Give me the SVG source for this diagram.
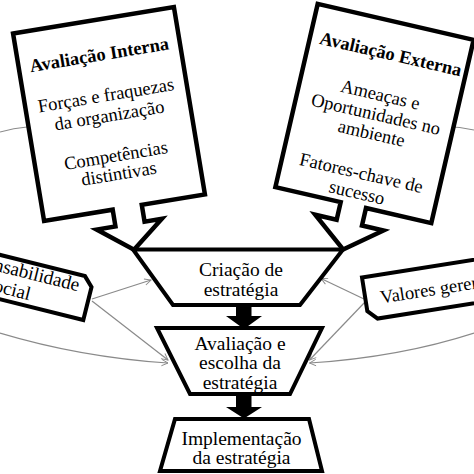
<svg xmlns="http://www.w3.org/2000/svg" width="474" height="474" viewBox="0 0 474 474">
<style>
.box{fill:#fff;stroke:#000;stroke-width:4.5;stroke-linejoin:miter}
.trap{fill:#fff;stroke:#000;stroke-width:4}
.t{font-family:"Liberation Serif","Times New Roman",serif;fill:#000;text-anchor:middle}
.tb{font-weight:bold}
.top{font-size:18.5px}
.low{font-size:19.5px}
.side{font-size:19.2px}
.con{fill:none;stroke:#8a8a8a;stroke-width:1.2}
.blk{fill:#000}
</style>
<defs>
<marker id="ah" viewBox="0 0 10 10" refX="9" refY="5" markerWidth="8" markerHeight="8" markerUnits="userSpaceOnUse" orient="auto">
<path d="M1,1 L9,5 L1,9" fill="none" stroke="#8a8a8a" stroke-width="1.2"/>
</marker>
</defs>
<rect width="474" height="474" fill="#fff"/>

<g id="connectors">
<path class="con" d="M0,132 Q14,128 27,127"/>
<path class="con" d="M445,126.5 Q460,127 474,130"/>
<path class="con" d="M92,299 L151,280" marker-end="url(#ah)"/>
<path class="con" d="M92,301 L168,360" marker-end="url(#ah)"/>
<path class="con" d="M0,333 Q80,357 168,363" marker-end="url(#ah)"/>
<path class="con" d="M364,299 L321,278.5" marker-end="url(#ah)"/>
<path class="con" d="M365.5,301.5 L309.5,360" marker-end="url(#ah)"/>
<path class="con" d="M474,333 Q400,357 309.5,363" marker-end="url(#ah)"/>
<path class="blk" d="M236,305 H251.5 V316 H262 L244,329 L226,316 H236 Z"/>
<path class="blk" d="M236,394 H251.5 V407 H262 L244,418.5 L226,407 H236 Z"/>
</g>

<g id="avaliacao-interna" transform="rotate(-9.4 109 114)">
<path class="box" d="M27.5,19 H190.5 V209 H126.5 V226 H144 L111.5,252 L78,226 H97 V209 H27.5 Z"/>
<text class="t tb top" x="109" y="60">Avaliação Interna</text>
<text class="t top" x="109" y="101">Forças e fraquezas</text>
<text class="t top" x="109" y="121.5">da organização</text>
<text class="t top" x="109" y="162">Competências</text>
<text class="t top" x="109" y="180.5">distintivas</text>
</g>

<g id="avaliacao-externa" transform="rotate(13 374.5 113.5)">
<path class="box" d="M294.5,19.5 H454.5 V207.5 H387.5 V225.5 H409.5 L374.5,253 L339.5,225.5 H361.5 V207.5 H294.5 Z"/>
<text class="t tb top" x="377" y="58">Avaliação Externa</text>
<text class="t top" x="376" y="100">Ameaças e</text>
<text class="t top" x="376" y="120">Oportunidades no</text>
<text class="t top" x="376" y="139.5">ambiente</text>
<text class="t top" x="375" y="180.5">Fatores-chave de</text>
<text class="t top" x="375" y="200.5">sucesso</text>
</g>

<g id="responsabilidade-social" transform="translate(83.3 320) rotate(14)">
<path class="box" style="stroke-width:4" d="M-165,-43 H-9 L0,-34 V0 H-156 L-165,-9 Z"/>
<text class="t side" x="-80" y="-26.5">Responsabilidade</text>
<text class="t side" x="-80" y="-6">social</text>
</g>

<g id="valores-gerenciais" transform="translate(362 277.5) rotate(-9)">
<path class="box" style="stroke-width:4" d="M0,0 H172 L181,9 V43 H9 L0,34 Z"/>
<text class="t" style="font-size:18.5px;text-anchor:start" x="15" y="28.8">Valores gerenciais</text>
</g>

<g id="criacao">
<path class="trap" d="M133,249.5 H343 L300,305 H173 Z"/>
<text class="t low" x="241" y="276">Criação de</text>
<text class="t low" x="241" y="296">estratégia</text>
</g>

<g id="avaliacao-escolha">
<path class="trap" d="M157,328 H322 L290,394 H190 Z"/>
<text class="t low" x="240" y="349.5">Avaliação e</text>
<text class="t low" x="240" y="369">escolha da</text>
<text class="t low" x="240" y="388.5">estratégia</text>
</g>

<g id="implementacao">
<path class="trap" d="M175,419 H309 L322,471 H160 Z"/>
<text class="t low" x="241.5" y="445">Implementação</text>
<text class="t low" x="241.5" y="464">da estratégia</text>
</g>
</svg>
